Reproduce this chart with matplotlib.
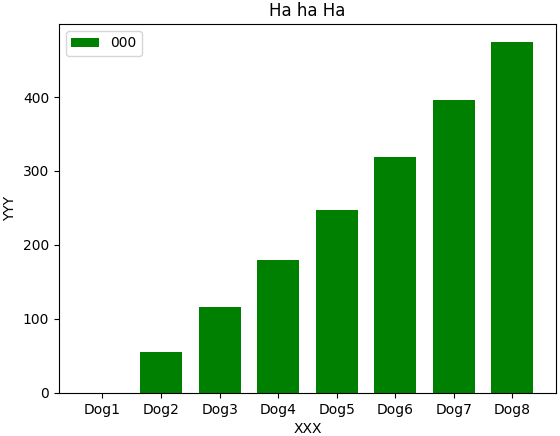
import matplotlib
matplotlib.use("Agg")
import matplotlib.pyplot as plt

dogs = ["Dog1", "Dog2", "Dog3", "Dog4", "Dog5", "Dog6", "Dog7", "Dog8"]
values = [0, 55, 116, 180, 247, 319, 396, 475]

fig = plt.figure(figsize=(5.6, 4.36), dpi=100)
plt.bar(dogs, values, width=0.72, color="green", label="000")
plt.title("Ha ha Ha")
plt.xlabel("XXX")
plt.ylabel("YYY")
plt.legend(loc="upper left")
plt.subplots_adjust(left=0.105, right=0.993, bottom=0.099, top=0.945)
plt.savefig("out.png", dpi=100)
